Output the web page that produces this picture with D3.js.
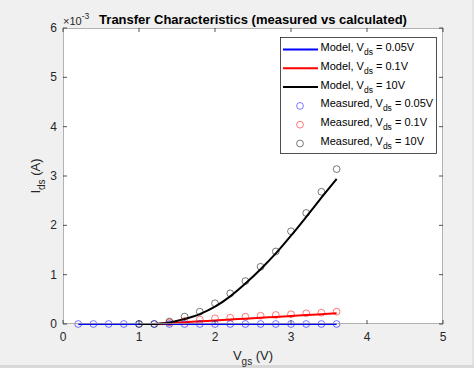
<!DOCTYPE html>
<html>
<head>
<meta charset="utf-8">
<script src="https://cdn.jsdelivr.net/npm/d3@7"></script>
<style>
	html, body { margin: 0; padding: 0; background: #f0f0f0; }
	svg { display: block; font-family: "Liberation Sans", Arial, sans-serif; }
</style>
</head>
<body>
<div id="chart"></div>
<script>
// gate voltages (V)
var vgsAll = [0.2, 0.4, 0.6, 0.8, 1.0, 1.2, 1.4, 1.6, 1.8, 2.0, 2.2, 2.4, 2.6, 2.8, 3.0, 3.2, 3.4, 3.6];
var vgsModelHi = [1.0, 1.2, 1.4, 1.6, 1.8, 2.0, 2.2, 2.4, 2.6, 2.8, 3.0, 3.2, 3.4, 3.6];
var vgsModelLo = [1.2, 1.4, 1.6, 1.8, 2.0, 2.2, 2.4, 2.6, 2.8, 3.0, 3.2, 3.4, 3.6];
var vgsMeasLo = [1.4, 1.6, 1.8, 2.0, 2.2, 2.4, 2.6, 2.8, 3.0, 3.2, 3.4, 3.6];
var vgsMeasHi = [1.0, 1.2, 1.4, 1.6, 1.8, 2.0, 2.2, 2.4, 2.6, 2.8, 3.0, 3.2, 3.4, 3.6];

// currents in mA (axis shows x10^-3 A)
var modelVds005 = [0, 0, 0, 0, 0, 0, 0, 0, 0, 0, 0, 0, 0, 0, 0, 0, 0, 0];
var modelVds01 = [0, 0.018, 0.036, 0.054, 0.072, 0.090, 0.108, 0.126, 0.144, 0.162, 0.180, 0.198, 0.217];
var modelVds10 = [0, 0, 0.03, 0.10, 0.20, 0.35, 0.56, 0.82, 1.11, 1.43, 1.79, 2.17, 2.56, 2.94];
var measVds005 = [0, 0, 0, 0, 0, 0, 0, 0, 0, 0, 0, 0, 0, 0, 0, 0, 0, 0];
var measVds01 = [0.03, 0.06, 0.09, 0.116, 0.128, 0.148, 0.168, 0.183, 0.197, 0.217, 0.229, 0.25];
var measVds10 = [0, 0, 0.05, 0.15, 0.25, 0.42, 0.62, 0.87, 1.16, 1.47, 1.88, 2.25, 2.68, 3.14];

var xTicks = [0, 1, 2, 3, 4, 5];
var yTicks = [0, 1, 2, 3, 4, 5, 6];

var legendItems = [
	{ kind: "line", color: "#0000ff", pre: "Model, V", sub: "ds", post: " = 0.05V" },
	{ kind: "line", color: "#ff0000", pre: "Model, V", sub: "ds", post: " = 0.1V" },
	{ kind: "line", color: "#000000", pre: "Model, V", sub: "ds", post: " = 10V" },
	{ kind: "circle", color: "#0000ff", pre: "Measured, V", sub: "ds", post: " = 0.05V" },
	{ kind: "circle", color: "#ff0000", pre: "Measured, V", sub: "ds", post: " = 0.1V" },
	{ kind: "circle", color: "#000000", pre: "Measured, V", sub: "ds", post: " = 10V" }
];

(function () {
	var width = 474,
		height = 368,
		pl = 63, pr = 443, pt = 28, pb = 324,
		axisColor = "#262626";

	var svg = d3.select("#chart").append("svg")
		.attr("width", width)
		.attr("height", height);

	svg.append("rect").attr("width", width).attr("height", height).attr("fill", "#f0f0f0");
	svg.append("rect").attr("x", 0).attr("y", 365).attr("width", width).attr("height", 3).attr("fill", "#d8d8d8");
	svg.append("rect").attr("x", 472).attr("y", 0).attr("width", 2).attr("height", 365).attr("fill", "#e2e2e2");

	var x = d3.scaleLinear().domain([0, 5]).range([pl, pr]);
	var y = d3.scaleLinear().domain([0, 6]).range([pb, pt]);

	svg.append("rect")
		.attr("x", pl).attr("y", pt)
		.attr("width", pr - pl).attr("height", pb - pt)
		.attr("fill", "#ffffff");

	function zip(xs, ys) {
		return xs.map(function (v, i) { return [v, ys[i]]; });
	}

	var line = d3.line()
		.x(function (d) { return x(d[0]); })
		.y(function (d) { return y(d[1]); })
		.curve(d3.curveMonotoneX);

	var plot = svg.append("g");

	var models = [
		{ data: zip(vgsAll, modelVds005), color: "#0000ff" },
		{ data: zip(vgsModelLo, modelVds01), color: "#ff0000" },
		{ data: zip(vgsModelHi, modelVds10), color: "#000000" }
	];

	plot.selectAll("path.model")
		.data(models)
		.join("path")
		.attr("class", "model")
		.attr("d", function (d) { return line(d.data); })
		.attr("fill", "none")
		.attr("stroke", function (d) { return d.color; })
		.attr("stroke-width", 2);

	var measured = [
		{ data: zip(vgsAll, measVds005), color: "#0000ff" },
		{ data: zip(vgsMeasLo, measVds01), color: "#ff0000" },
		{ data: zip(vgsMeasHi, measVds10), color: "#000000" }
	];

	measured.forEach(function (s) {
		plot.append("g")
			.selectAll("circle")
			.data(s.data)
			.join("circle")
			.attr("cx", function (d) { return x(d[0]); })
			.attr("cy", function (d) { return y(d[1]); })
			.attr("r", 3.4)
			.attr("fill", "none")
			.attr("stroke", s.color)
			.attr("stroke-opacity", 0.75)
			.attr("stroke-width", 0.7);
	});

	// axes frame with inward ticks on all sides
	var frame = svg.append("g").attr("stroke", axisColor).attr("stroke-width", 0.8).attr("fill", "none");
	frame.append("rect")
		.attr("x", pl + 0.5).attr("y", pt + 0.5)
		.attr("width", pr - pl - 1).attr("height", pb - pt - 1)
		.attr("stroke", "#a0a0a0");

	var tl = 4;
	frame.append("g").selectAll("line").data(xTicks).join("line")
		.attr("x1", function (d) { return x(d); }).attr("x2", function (d) { return x(d); })
		.attr("y1", pb).attr("y2", pb - tl);
	frame.append("g").selectAll("line").data(xTicks).join("line")
		.attr("x1", function (d) { return x(d); }).attr("x2", function (d) { return x(d); })
		.attr("y1", pt).attr("y2", pt + tl);
	frame.append("g").selectAll("line").data(yTicks).join("line")
		.attr("y1", function (d) { return y(d); }).attr("y2", function (d) { return y(d); })
		.attr("x1", pl).attr("x2", pl + tl);
	frame.append("g").selectAll("line").data(yTicks).join("line")
		.attr("y1", function (d) { return y(d); }).attr("y2", function (d) { return y(d); })
		.attr("x1", pr).attr("x2", pr - tl);

	svg.append("g").selectAll("text").data(xTicks).join("text")
		.attr("x", function (d) { return x(d); })
		.attr("y", 341)
		.attr("text-anchor", "middle")
		.attr("font-size", 12)
		.attr("fill", axisColor)
		.text(function (d) { return d; });

	svg.append("g").selectAll("text").data(yTicks).join("text")
		.attr("x", 57)
		.attr("y", function (d) { return y(d) + 4; })
		.attr("text-anchor", "end")
		.attr("font-size", 12)
		.attr("fill", axisColor)
		.text(function (d) { return d; });

	// exponent label
	var expo = svg.append("text").attr("x", 63).attr("y", 25).attr("font-size", 11).attr("fill", axisColor);
	expo.append("tspan").text("\u00d710");
	expo.append("tspan").attr("dy", -6).attr("font-size", 8.5).text("-3");

	// title
	svg.append("text")
		.attr("x", (pl + pr) / 2)
		.attr("y", 23.5)
		.attr("text-anchor", "middle")
		.attr("font-size", 13)
		.attr("font-weight", "bold")
		.attr("fill", "#000")
		.text("Transfer Characteristics (measured vs calculated)");

	// axis labels
	var xl = svg.append("text")
		.attr("x", (pl + pr) / 2)
		.attr("y", 360)
		.attr("text-anchor", "middle")
		.attr("font-size", 13)
		.attr("fill", axisColor);
	xl.append("tspan").text("V");
	xl.append("tspan").attr("dy", 5).attr("font-size", 10).text("gs");
	xl.append("tspan").attr("dy", -5).text(" (V)");

	var yl = svg.append("text")
		.attr("transform", "translate(40," + ((pt + pb) / 2) + ") rotate(-90)")
		.attr("text-anchor", "middle")
		.attr("font-size", 13)
		.attr("fill", axisColor);
	yl.append("tspan").text("I");
	yl.append("tspan").attr("dy", 5).attr("font-size", 10).text("ds");
	yl.append("tspan").attr("dy", -5).text(" (A)");

	// legend
	var lg = svg.append("g");
	lg.append("rect")
		.attr("x", 280.5).attr("y", 37.5)
		.attr("width", 156).attr("height", 116)
		.attr("fill", "#ffffff")
		.attr("stroke", axisColor)
		.attr("stroke-width", 0.8);

	var rows = lg.selectAll("g.row").data(legendItems).join("g")
		.attr("class", "row")
		.attr("transform", function (d, i) { return "translate(0," + (49.5 + i * 18.8) + ")"; });

	rows.filter(function (d) { return d.kind === "line"; })
		.append("line")
		.attr("x1", 283).attr("x2", 318)
		.attr("stroke", function (d) { return d.color; })
		.attr("stroke-width", 2);

	rows.filter(function (d) { return d.kind === "circle"; })
		.append("circle")
		.attr("cx", 300).attr("r", 3.4)
		.attr("fill", "none")
		.attr("stroke", function (d) { return d.color; })
		.attr("stroke-opacity", 0.75)
		.attr("stroke-width", 0.7);

	var lt = rows.append("text")
		.attr("x", 320.5)
		.attr("y", 1.5)
		.attr("font-size", 11)
		.attr("fill", "#000");
	lt.append("tspan").text(function (d) { return d.pre; });
	lt.append("tspan").attr("dy", 4).attr("font-size", 8.5).text(function (d) { return d.sub; });
	lt.append("tspan").attr("dy", -4).text(function (d) { return d.post; });
})();
</script>
</body>
</html>
